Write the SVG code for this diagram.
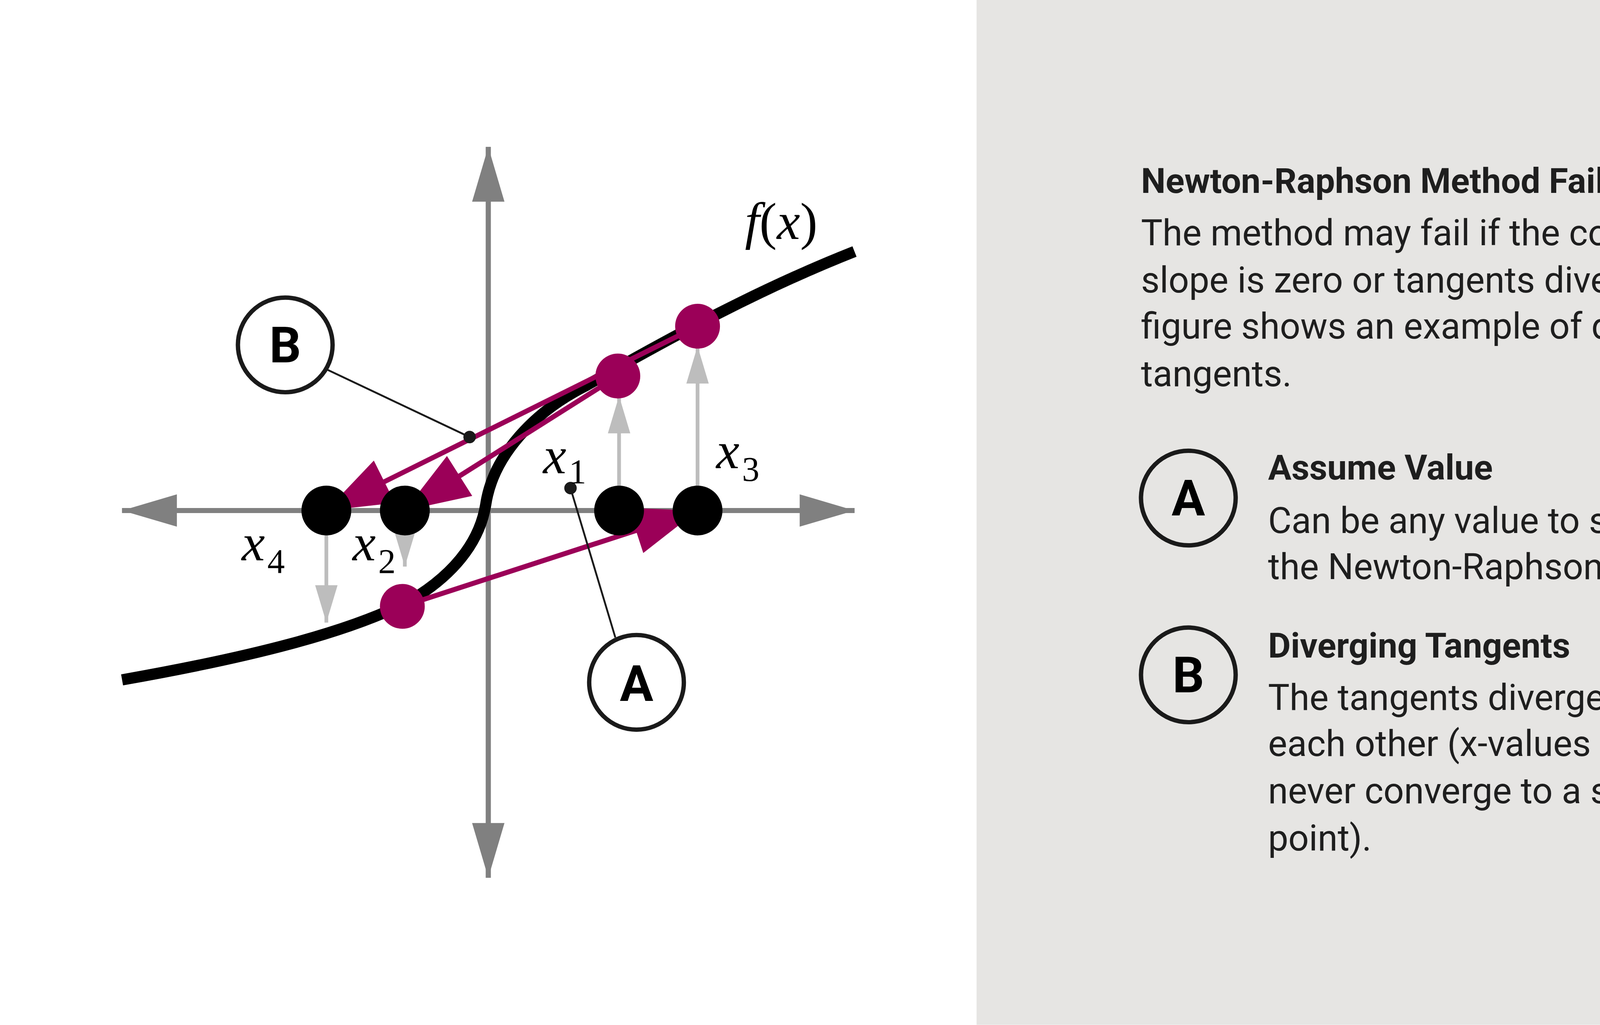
<svg xmlns="http://www.w3.org/2000/svg" width="5000" height="2625" viewBox="0 0 5000 2625">
<defs>
<marker id="ax" markerUnits="userSpaceOnUse" markerWidth="60" markerHeight="40" refX="0" refY="0" viewBox="-50 -20 60 40" orient="auto"><path d="M0,0 L-44,-13 L-44,13 Z" fill="#808080"/></marker>
<marker id="lg" markerUnits="userSpaceOnUse" markerWidth="40" markerHeight="30" refX="0" refY="0" viewBox="-35 -15 40 30" orient="auto"><path d="M0,0 L-30,-9 L-30,9 Z" fill="#bdbdbd"/></marker>
<marker id="mg" markerUnits="userSpaceOnUse" markerWidth="70" markerHeight="50" refX="0" refY="0" viewBox="-60 -25 70 50" orient="auto"><path d="M0,0 L-52,-19 L-52,19 Z" fill="#9b0058"/></marker>
</defs>
<style>
.ax{stroke:#808080;stroke-width:4;fill:none}
.lg{stroke:#bdbdbd;stroke-width:3;fill:none}
.mg{stroke:#9b0058;stroke-width:4;fill:none}
.mp{fill:#9b0058}
.bd{fill:#000}
.lead{stroke:#1a1a1a;stroke-width:1.5;fill:none}
.cir{fill:#fff;stroke:#1a1a1a;stroke-width:3.5}
.cirR{fill:none;stroke:#1a1a1a;stroke-width:3.5}
.lbl{font-family:Roboto,"Liberation Sans",sans-serif;font-weight:700;font-size:40px;fill:#000;text-anchor:middle}
.math{font-family:"Liberation Serif","DejaVu Serif",serif;font-style:italic;font-size:42px;fill:#000}
.sub{font-family:"Liberation Serif","DejaVu Serif",serif;font-style:normal;font-size:28px;fill:#000}
.h{font-family:Roboto,"Liberation Sans",sans-serif;font-weight:700;font-size:28px;fill:#1e1e1e}
.t{font-family:Roboto,"Liberation Sans",sans-serif;font-size:29px;fill:#1e1e1e}
</style>
<g transform="scale(3.1888)">
<rect x="0" y="0" width="1568" height="823" fill="#fff"/>
<path id="panel" d="M784,0 H1448 A120,120 0 0 1 1568,120 V703 A120,120 0 0 1 1448,823 H784 Z" fill="#e6e5e3"/>
<g id="axes">
<line class="ax" x1="392" y1="705" x2="392" y2="118" marker-end="url(#ax)"/>
<line class="ax" x1="392" y1="118" x2="392" y2="705" marker-end="url(#ax)"/>
<line class="ax" x1="98" y1="410" x2="686" y2="410" marker-end="url(#ax)"/>
<line class="ax" x1="686" y1="410" x2="98" y2="410" marker-end="url(#ax)"/>
</g>
<g id="curve"><path d="M98,546 C200,528 280,508 330,482 C370,458 386,430 390,405 C396,365 430,330 470,310 C540,270 610,232 686,202" fill="none" stroke="#000" stroke-width="9"/></g>
<g id="connectors">
<line class="lg" x1="497" y1="398" x2="497" y2="318" marker-end="url(#lg)"/>
<line class="lg" x1="560" y1="398" x2="560" y2="278" marker-end="url(#lg)"/>
<line class="lg" x1="262" y1="422" x2="262" y2="500" marker-end="url(#lg)"/>
<line class="lg" x1="325" y1="422" x2="325" y2="455" marker-end="url(#lg)"/>
<line class="mg" x1="323" y1="487" x2="560" y2="410" marker-end="url(#mg)"/>
<line class="mg" x1="496" y1="302" x2="325" y2="410" marker-end="url(#mg)"/>
<line class="mg" x1="560" y1="262" x2="262" y2="410" marker-end="url(#mg)"/>
<line class="lead" x1="263" y1="297" x2="377" y2="351"/>
<line class="lead" x1="458" y1="392" x2="494" y2="512"/>
</g>
<g id="x4"><circle class="bd" cx="262" cy="410" r="20"/></g>
<g id="x2"><circle class="bd" cx="325" cy="410" r="20"/></g>
<g id="x1"><circle class="bd" cx="497" cy="410" r="20"/></g>
<g id="x3"><circle class="bd" cx="560" cy="410" r="20"/></g>
<g id="p0"><circle class="mp" cx="323" cy="487" r="18"/></g>
<g id="p1"><circle class="mp" cx="496" cy="302" r="18"/></g>
<g id="p3"><circle class="mp" cx="560" cy="262" r="18"/></g>
<g id="dots"><circle cx="377" cy="351" r="5" fill="#1a1a1a"/><circle cx="458" cy="392" r="5" fill="#1a1a1a"/></g>
<g id="labelB"><circle class="cir" cx="229" cy="277" r="38"/><text class="lbl" x="229" y="291">B</text></g>
<g id="labelA"><circle class="cir" cx="511" cy="548" r="38"/><text class="lbl" x="511" y="563">A</text></g>
<g id="mathlabels">
<text class="math" x="436" y="380">x<tspan class="sub" dx="2" dy="8">1</tspan></text>
<text class="math" x="283" y="450">x<tspan class="sub" dx="2" dy="10">2</tspan></text>
<text class="math" x="575" y="376">x<tspan class="sub" dx="2" dy="10">3</tspan></text>
<text class="math" x="194" y="450">x<tspan class="sub" dx="2" dy="10">4</tspan></text>
<text class="math" x="598" y="192">f<tspan font-style="normal">(</tspan>x<tspan font-style="normal">)</tspan></text>
</g>
<g id="textpanel">
<text class="h" x="916" y="155">Newton-Raphson Method Failure</text>
<text class="t" x="916" y="197">The method may fail if the computed</text>
<text class="t" x="916" y="235">slope is zero or tangents diverge. The</text>
<text class="t" x="916" y="272">figure shows an example of diverging</text>
<text class="t" x="916" y="310">tangents.</text>
</g>
<g id="legendA"><circle class="cirR" cx="954" cy="400" r="38"/><text class="lbl" x="954" y="414">A</text>
<text class="h" x="1018" y="385">Assume Value</text>
<text class="t" x="1018" y="428">Can be any value to start</text>
<text class="t" x="1018" y="465">the Newton-Raphson Method</text></g>
<g id="legendB"><circle class="cirR" cx="954" cy="542" r="38"/><text class="lbl" x="954" y="556">B</text>
<text class="h" x="1018" y="528">Diverging Tangents</text>
<text class="t" x="1018" y="570">The tangents diverge from</text>
<text class="t" x="1018" y="607">each other (x-values will</text>
<text class="t" x="1018" y="645">never converge to a specific</text>
<text class="t" x="1018" y="683">point).</text></g>
</g>
</svg>
